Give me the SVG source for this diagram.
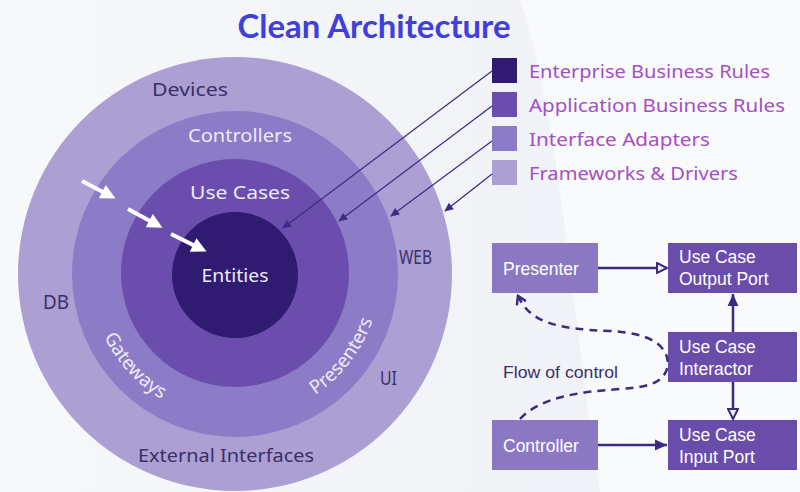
<svg xmlns="http://www.w3.org/2000/svg" width="800" height="492" viewBox="0 0 800 492">
<defs>
<style>
.lbl{font-family:"Noto Sans","DejaVu Sans",sans-serif;font-size:18px}
.big{font-size:20px}
.arc{font-size:19px}
.dark{fill:#3a2f68}
.light{fill:#efeafa}
.leg{font-family:"Noto Sans","DejaVu Sans",sans-serif;font-size:18px;fill:#a44fc2}
.box{font-family:"Liberation Sans",Arial,sans-serif;font-size:17.5px;fill:#ffffff}
.conn{stroke:#3b2b80;stroke-width:2.5;fill:none}
.legline{stroke:#3b2b85;stroke-width:1.2;fill:none}
.warrow{stroke:#ffffff;stroke-width:4;fill:none}
</style>
<linearGradient id="bg" x1="0" y1="0" x2="1" y2="0">
<stop offset="0" stop-color="#f7f8fb"/>
<stop offset="1" stop-color="#eef0f6"/>
</linearGradient>
<marker id="legah" viewBox="0 0 10 10" refX="9" refY="5" markerWidth="11" markerHeight="9" markerUnits="userSpaceOnUse" orient="auto"><path d="M0,0.5 L10,5 L0,9.5 z" fill="#3b2b85"/></marker>
<marker id="fillah" viewBox="0 0 10 10" refX="10" refY="5" markerWidth="13" markerHeight="12" markerUnits="userSpaceOnUse" orient="auto"><path d="M0,0.5 L10,5 L0,9.5 z" fill="#3b2b80"/></marker>
<marker id="openah" viewBox="0 0 12 12" refX="11" refY="6" markerWidth="13" markerHeight="12" markerUnits="userSpaceOnUse" orient="auto"><path d="M1,1 L11,6 L1,11 z" fill="#eeeef4" stroke="#3b2b80" stroke-width="2"/></marker>
<marker id="chev" viewBox="0 0 12 12" refX="10" refY="6" markerWidth="12" markerHeight="12" markerUnits="userSpaceOnUse" orient="auto"><path d="M2,1 L10,6 L2,11" fill="none" stroke="#3b2b80" stroke-width="2.5"/></marker>
<marker id="wah" viewBox="0 0 10 10" refX="4" refY="5" markerWidth="16" markerHeight="15" markerUnits="userSpaceOnUse" orient="auto"><path d="M0,0 L10,5 L0,10 z" fill="#ffffff"/></marker>
<path id="gwPath" d="M94.9,311.5 A145,145 0 0 0 185.4,410.3"/>
<path id="prPath" d="M272.5,414.1 A145,145 0 0 0 380,274"/>
</defs>

<rect x="0" y="0" width="800" height="492" fill="url(#bg)"/>
<path d="M520,0 L800,0 L800,492 L600,492 C570,300 560,120 520,0 z" fill="#f9fafc"/>

<text x="374" y="38" text-anchor="middle" font-family="Lato,'Open Sans',sans-serif" font-weight="bold" font-size="32" fill="#3f3fdc" textLength="273" lengthAdjust="spacingAndGlyphs">Clean Architecture</text>

<g id="circles">
<circle id="frameworks" cx="235" cy="274" r="217" fill="#ab9fd3"/>
<circle id="adapters" cx="235" cy="274" r="163" fill="#8c7bc6"/>
<circle id="usecases" cx="235" cy="273" r="114" fill="#6a4dac"/>
<circle id="entities" cx="235" cy="275" r="63" fill="#2f1b70"/>
</g>

<g id="circle-labels">
<text class="lbl dark" x="190" y="96" text-anchor="middle" textLength="76" lengthAdjust="spacingAndGlyphs">Devices</text>
<text class="lbl light" x="240" y="142" text-anchor="middle" textLength="104" lengthAdjust="spacingAndGlyphs">Controllers</text>
<text class="lbl light" x="240" y="199" text-anchor="middle" textLength="100" lengthAdjust="spacingAndGlyphs">Use Cases</text>
<text class="lbl light" x="235" y="282" text-anchor="middle" textLength="67" lengthAdjust="spacingAndGlyphs">Entities</text>
<text class="lbl big dark" x="399" y="264" textLength="33" lengthAdjust="spacingAndGlyphs">WEB</text>
<text class="lbl big dark" x="43" y="309" textLength="26" lengthAdjust="spacingAndGlyphs">DB</text>
<text class="lbl big dark" x="380" y="385" textLength="17" lengthAdjust="spacingAndGlyphs">UI</text>
<text class="lbl dark" x="226" y="462" text-anchor="middle" textLength="176" lengthAdjust="spacingAndGlyphs">External Interfaces</text>
<text class="lbl arc light"><textPath href="#gwPath" startOffset="50%" text-anchor="middle">Gateways</textPath></text>
<text class="lbl arc light"><textPath href="#prPath" startOffset="50%" text-anchor="middle">Presenters</textPath></text>
</g>

<g id="white-arrows">
<line class="warrow" x1="82" y1="181" x2="107.6" y2="194.4" marker-end="url(#wah)"/>
<line class="warrow" x1="128" y1="209" x2="154.6" y2="223.4" marker-end="url(#wah)"/>
<line class="warrow" x1="171" y1="234" x2="198.5" y2="247.6" marker-end="url(#wah)"/>
</g>

<g id="legend">
<g id="leg-enterprise"><rect x="492" y="58" width="25" height="25" fill="#2f1b70"/><text class="leg" x="529" y="78" textLength="241" lengthAdjust="spacingAndGlyphs">Enterprise Business Rules</text></g>
<g id="leg-application"><rect x="492" y="92" width="25" height="25" fill="#6a4dac"/><text class="leg" x="529" y="112" textLength="256" lengthAdjust="spacingAndGlyphs">Application Business Rules</text></g>
<g id="leg-adapters"><rect x="492" y="126" width="25" height="25" fill="#8c7bc6"/><text class="leg" x="529" y="146" textLength="181" lengthAdjust="spacingAndGlyphs">Interface Adapters</text></g>
<g id="leg-frameworks"><rect x="492" y="160" width="25" height="25" fill="#ab9fd3"/><text class="leg" x="529" y="180" textLength="209" lengthAdjust="spacingAndGlyphs">Frameworks &amp; Drivers</text></g>
</g>

<g id="legend-connectors">
<line class="legline" x1="492" y1="71" x2="283" y2="228" marker-end="url(#legah)"/>
<line class="legline" x1="492" y1="106" x2="339" y2="221" marker-end="url(#legah)"/>
<line class="legline" x1="492" y1="141" x2="391" y2="216" marker-end="url(#legah)"/>
<line class="legline" x1="492" y1="174" x2="445" y2="211" marker-end="url(#legah)"/>
</g>

<g id="presenter"><rect x="492" y="243" width="106" height="50" fill="#8b78c2"/><text class="box" x="503" y="275">Presenter</text></g>
<g id="output-port"><rect x="668" y="243" width="129" height="50" fill="#6a4caa"/><text class="box" x="679" y="263">Use Case</text><text class="box" x="679" y="285">Output Port</text></g>
<g id="interactor"><rect x="668" y="332" width="129" height="50" fill="#6a4caa"/><text class="box" x="679" y="353">Use Case</text><text class="box" x="679" y="375">Interactor</text></g>
<g id="controller"><rect x="492" y="420" width="106" height="50" fill="#8b78c2"/><text class="box" x="503" y="452">Controller</text></g>
<g id="input-port"><rect x="668" y="420" width="129" height="50" fill="#6a4caa"/><text class="box" x="679" y="441">Use Case</text><text class="box" x="679" y="463">Input Port</text></g>

<g id="connectors">
<line class="conn" x1="598" y1="268" x2="667" y2="268" marker-end="url(#openah)"/>
<line class="conn" x1="598" y1="445" x2="667" y2="445" marker-end="url(#fillah)"/>
<line class="conn" x1="733" y1="332" x2="733" y2="294" marker-end="url(#fillah)"/>
<line class="conn" x1="733" y1="382" x2="733" y2="419" marker-end="url(#openah)"/>
<path class="conn" stroke-dasharray="8,6" d="M520,419 C540,398 575,392 620,389 C655,387 665,380 668,365 C668,345 650,333 610,331 C555,329 530,322 518,296" marker-end="url(#chev)"/>
</g>

<text x="503" y="378" font-family="'Liberation Sans',Arial,sans-serif" font-size="17" fill="#3a2f68" textLength="115" lengthAdjust="spacingAndGlyphs">Flow of control</text>
</svg>
